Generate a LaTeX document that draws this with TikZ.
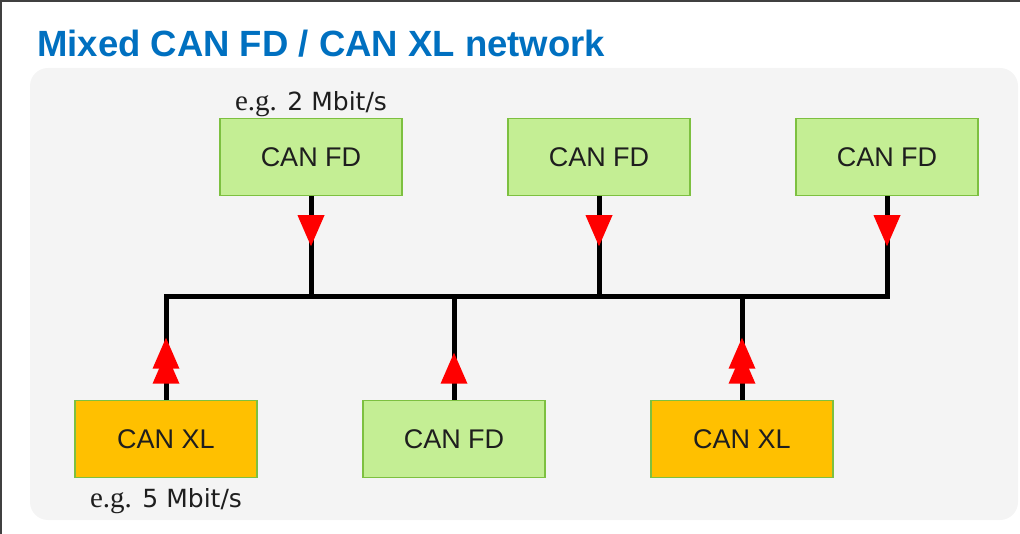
\documentclass[tikz,border=0pt]{standalone}
\usepackage{fontspec}
\setmainfont{Liberation Sans}
\newfontfamily\serifpart{Liberation Serif}
\newfontfamily\ratefont{DejaVu Sans}
\usepackage{xcolor}
\usetikzlibrary{positioning,arrows.meta}

\definecolor{titleblue}{RGB}{0,112,192}
\definecolor{panelgray}{RGB}{244,244,244}
\definecolor{fdgreen}{RGB}{196,238,148}
\definecolor{fdborder}{RGB}{125,192,64}
\definecolor{xlorange}{RGB}{255,192,0}
\definecolor{nodetext}{RGB}{30,30,30}

\tikzset{
ecu/.style={draw=fdborder, line width=1.5pt, minimum width=182pt, minimum height=77pt,
  font=\fontsize{27}{30}\selectfont, text=nodetext},
fdnode/.style={ecu, fill=fdgreen},
xlnode/.style={ecu, fill=xlorange},
bus/.style={line width=5pt},
rate/.style={font=\ratefont\fontsize{25}{29}\selectfont, text=nodetext, inner sep=0pt},
fdtip/.style={-{Triangle[length=31pt,width=27pt,color=red,line width=0pt]}},
xltip/.style={-{Triangle[length=31pt,width=27pt,color=red,line width=0pt,sep=-16pt]
  Triangle[length=31pt,width=27pt,color=red,line width=0pt]}}
}

\begin{document}
\begin{tikzpicture}[x=1pt, y=-1pt, node distance=104.5pt]

\useasboundingbox (0,0) rectangle (1020,534);
\draw[line width=2pt, black!75] (1,534) -- (1,1) -- (1020,1);
\fill[panelgray, rounded corners=18pt] (30,68) rectangle (1018,520);

\node[anchor=base west, inner sep=0pt, text=titleblue,
  font=\fontsize{36.5}{40}\selectfont\bfseries] (title) at (37,57) {Mixed CAN FD / CAN XL network};

% top row
\node[fdnode] (fd1) at (311,157) {CAN FD};
\node[fdnode, right=of fd1] (fd2) {CAN FD};
\node[fdnode, right=of fd2] (fd3) {CAN FD};

% bottom row
\node[xlnode] (xl1) at (166,439) {CAN XL};
\node[fdnode, right=of xl1] (fd4) {CAN FD};
\node[xlnode, right=of fd4] (xl2) {CAN XL};

\node[rate, anchor=base] (rate1) at ([yshift=7pt]fd1.north)
  {{\serifpart\fontsize{29}{30}\selectfont e.g.} 2 Mbit/s};
\node[rate, anchor=base] (rate2) at ([yshift=-29pt]xl1.south)
  {{\serifpart\fontsize{29}{30}\selectfont e.g.} 5 Mbit/s};

% bus
\coordinate (busy) at (0,297);
\draw[bus] (xl1.north) -- (xl1.north |- busy) -- (fd3.south |- busy) -- (fd3.south);
\draw[bus] (fd1.south) -- (fd1.south |- busy);
\draw[bus] (fd2.south) -- (fd2.south |- busy);
\draw[bus] (fd4.north) -- (fd4.north |- busy);
\draw[bus] (xl2.north) -- (xl2.north |- busy);

% arrows
\draw[bus, fdtip] (fd1.south) -- ++(0,50);
\draw[bus, fdtip] (fd2.south) -- ++(0,50);
\draw[bus, fdtip] (fd3.south) -- ++(0,50);
\draw[bus, fdtip] (fd4.north) -- ++(0,-47);
\draw[bus, xltip] (xl1.north) -- ++(0,-62);
\draw[bus, xltip] (xl2.north) -- ++(0,-62);

\end{tikzpicture}
\end{document}
